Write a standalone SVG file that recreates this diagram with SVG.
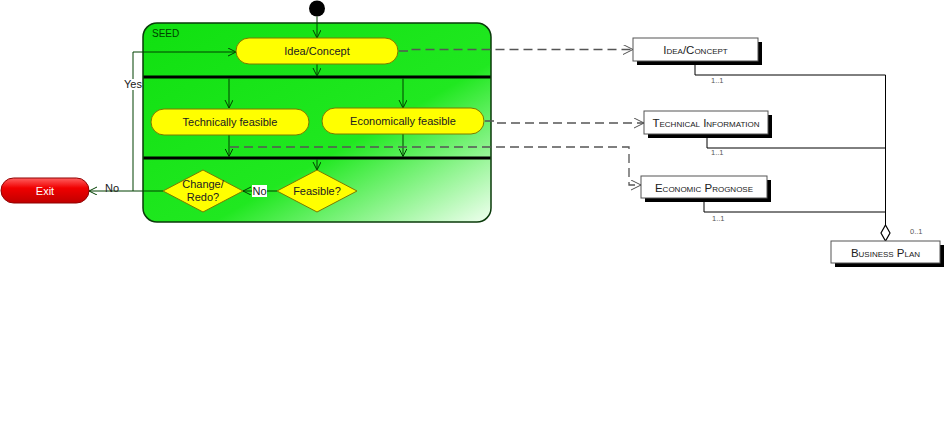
<svg xmlns="http://www.w3.org/2000/svg" width="945" height="432" viewBox="0 0 945 432">
<defs>
<linearGradient id="seedG" x1="0" y1="0" x2="1" y2="1">
<stop offset="0" stop-color="#10e010"/>
<stop offset="0.6" stop-color="#20e820"/>
<stop offset="1" stop-color="#f0fff0"/>
</linearGradient>
<linearGradient id="exitG" x1="0" y1="0" x2="0" y2="1">
<stop offset="0" stop-color="#ff6060"/>
<stop offset="0.4" stop-color="#f00000"/>
<stop offset="1" stop-color="#c00000"/>
</linearGradient>
<marker id="ag" markerWidth="10" markerHeight="10" refX="8" refY="4" orient="auto" markerUnits="userSpaceOnUse">
<path d="M0,0 L8,4 L0,8" fill="none" stroke="#004000" stroke-width="1"/>
</marker>
<marker id="ad" markerWidth="12" markerHeight="12" refX="10" refY="5" orient="auto" markerUnits="userSpaceOnUse">
<path d="M0,0 L10,5 L0,10" fill="none" stroke="#505050" stroke-width="1"/>
</marker>
</defs>
<style>
text{font-family:"Liberation Sans",Arial,sans-serif;}
.pill{fill:#ffff00;stroke:#7a7a00;stroke-width:1;}
.dia{fill:#ffff00;stroke:#7a7a00;stroke-width:1;}
.lbl{font-size:11px;fill:#202020;text-anchor:middle;}
.fl{fill:none;stroke:#004000;stroke-width:1;}
.dash{fill:none;stroke:#555;stroke-width:1.3;stroke-dasharray:9,5;}
.bar{stroke:#000;stroke-width:3;}
.cls{fill:#fff;stroke:#555;stroke-width:1;}
.shd{fill:#000;}
.ct{font-size:11.5px;font-variant:small-caps;fill:#202020;text-anchor:middle;}
.assoc{fill:none;stroke:#000;stroke-width:1;}
.mult{font-size:7.5px;fill:#555;}
</style>
<rect width="945" height="432" fill="#fff"/>
<g id="seed">
<rect x="143" y="23" width="348" height="199" rx="14" fill="url(#seedG)" stroke="#0a3a0a" stroke-width="1.5"/>
<text x="152" y="37" font-size="10" fill="#004000">SEED</text>
<line class="bar" x1="143.5" y1="77" x2="490.5" y2="77"/>
<line class="bar" x1="143.5" y1="158" x2="490.5" y2="158"/>
</g>
<g id="start"><circle cx="317" cy="8.5" r="8" fill="#000"/></g>
<g id="connectors">
<path class="fl" d="M317,16.5 V38" marker-end="url(#ag)"/>
<path class="fl" d="M317,64 V76" marker-end="url(#ag)"/>
<path class="fl" d="M229,78.5 V108" marker-end="url(#ag)"/>
<path class="fl" d="M403,78.5 V108" marker-end="url(#ag)"/>
<path class="fl" d="M229,135 V156.5" marker-end="url(#ag)"/>
<path class="fl" d="M403,134 V156.5" marker-end="url(#ag)"/>
<path class="fl" d="M317,159.5 V170" marker-end="url(#ag)"/>
<path class="fl" d="M277,191 H243" marker-end="url(#ag)"/>
<path class="fl" d="M163,191 H89" marker-end="url(#ag)"/>
<path class="fl" d="M133,191 V52 H236" marker-end="url(#ag)"/>
<path class="dash" d="M399,51 H410 V49.5 H633" marker-end="url(#ad)"/>
<path class="dash" d="M485,121 H496 V123 H644" marker-end="url(#ad)"/>
<path class="dash" d="M230,147 H629 V185 H641" marker-end="url(#ad)"/>
<path class="assoc" d="M695,62 V75 H885.5"/>
<path class="assoc" d="M707,135 V148 H885.5"/>
<path class="assoc" d="M704,199 V212 H885.5"/>
<path class="assoc" d="M885.5,75 V225" stroke-width="1.5"/>
<path d="M885.5,225 L890,233 L885.5,241 L881,233 Z" fill="#fff" stroke="#000" stroke-width="1.2"/>
<rect x="252" y="185" width="15" height="12" fill="#fff"/>
<text x="259.5" y="195" class="lbl">No</text>
<text x="112" y="192" class="lbl">No</text>
<rect x="124" y="79" width="18" height="11" fill="#fff"/>
<text x="133" y="88" class="lbl">Yes</text>
<text x="711" y="83" class="mult">1..1</text>
<text x="711" y="155" class="mult">1..1</text>
<text x="712" y="221" class="mult">1..1</text>
<text x="910" y="234" class="mult">0..1</text>
</g>
<g id="idea">
<rect class="pill" x="236" y="38" width="162" height="26" rx="13"/>
<text x="317" y="55" class="lbl">Idea/Concept</text>
</g>
<g id="tech">
<rect class="pill" x="151" y="109" width="158" height="26" rx="13"/>
<text x="230" y="126" class="lbl">Technically feasible</text>
</g>
<g id="econ">
<rect class="pill" x="322" y="108" width="162" height="26" rx="13"/>
<text x="403" y="125" class="lbl">Economically feasible</text>
</g>
<g id="feasible">
<polygon class="dia" points="317,170 357,191 317,212 277,191"/>
<text x="317" y="195" class="lbl">Feasible?</text>
</g>
<g id="change">
<polygon class="dia" points="203,170 243,191 203,212 163,191"/>
<text x="203" y="188" class="lbl">Change/</text>
<text x="203" y="201" class="lbl">Redo?</text>
</g>
<g id="exit">
<rect x="1" y="178" width="88" height="25" rx="12.5" fill="url(#exitG)" stroke="#900000" stroke-width="1"/>
<text x="45" y="195" class="lbl" style="fill:#fff">Exit</text>
</g>
<g id="c-idea">
<rect class="shd" x="637" y="42" width="125" height="23"/>
<rect class="cls" x="633" y="38" width="125" height="23"/>
<text x="695.5" y="54" class="ct">Idea/Concept</text>
</g>
<g id="c-tech">
<rect class="shd" x="648" y="115" width="124" height="23"/>
<rect class="cls" x="644" y="111" width="124" height="23"/>
<text x="706" y="127" class="ct">Technical Information</text>
</g>
<g id="c-econ">
<rect class="shd" x="645" y="180" width="126" height="22"/>
<rect class="cls" x="641" y="176" width="126" height="22"/>
<text x="704" y="191.5" class="ct">Economic Prognose</text>
</g>
<g id="c-bp">
<rect class="shd" x="835" y="245" width="109" height="22"/>
<rect class="cls" x="831" y="241" width="109" height="22"/>
<text x="885.5" y="256.5" class="ct">Business Plan</text>
</g>
</svg>
